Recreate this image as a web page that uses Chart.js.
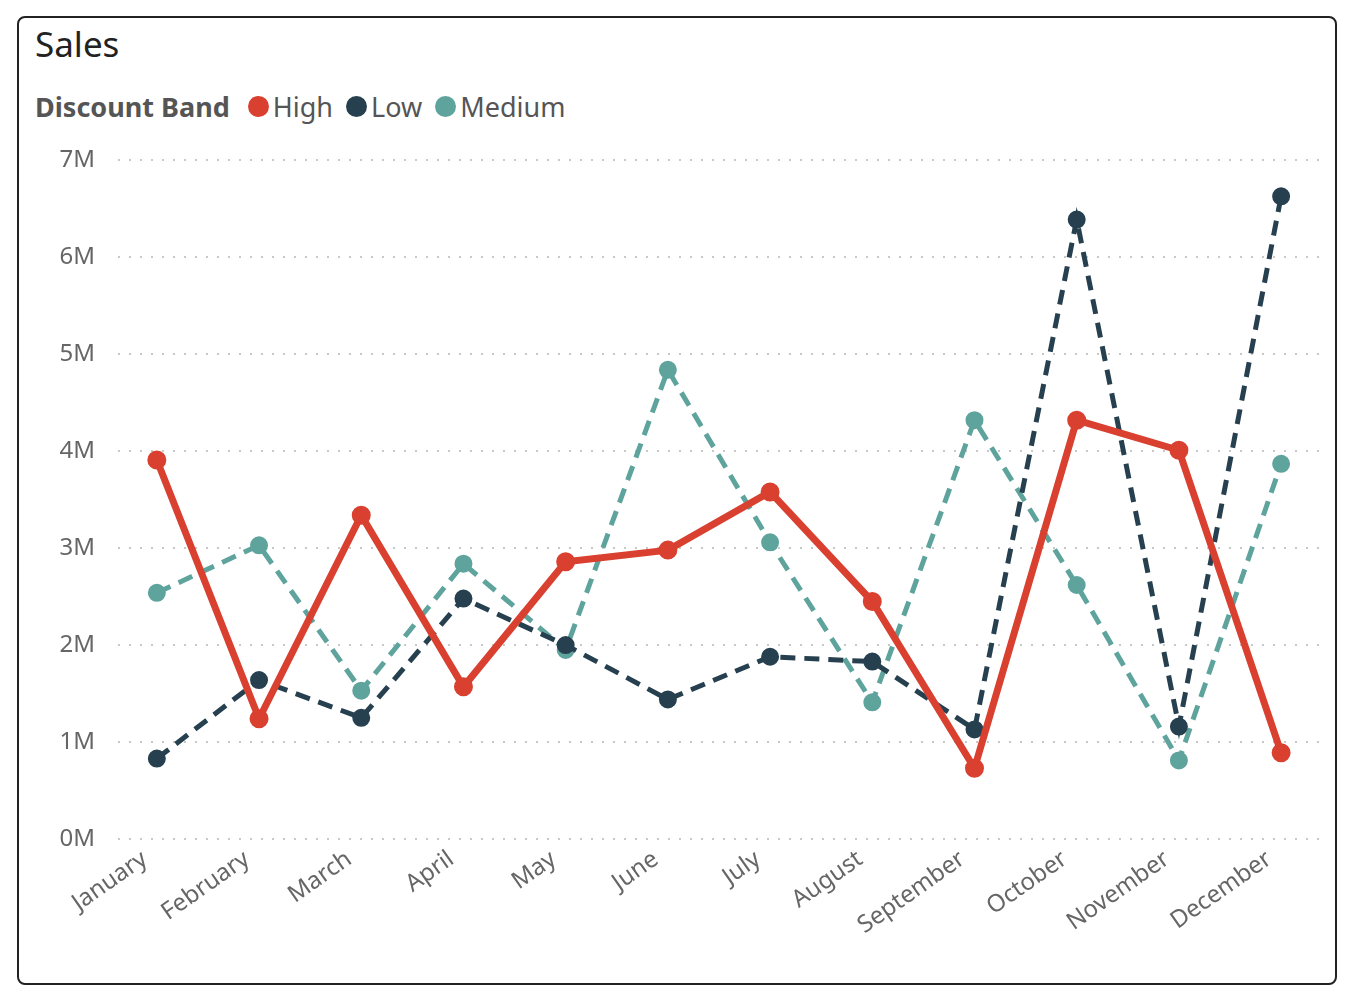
<!DOCTYPE html>
<html><head><meta charset="utf-8">
<script src="https://cdn.jsdelivr.net/npm/chart.js@4.4.1/dist/chart.umd.min.js"></script>
<style>
html,body{margin:0;padding:0;background:#fff;}
body{width:1347px;height:1005px;position:relative;font-family:"Noto Sans","Open Sans",sans-serif;}
#card{position:absolute;left:17px;top:16px;width:1316px;height:965px;border:2px solid #222;border-radius:8px;box-sizing:content-box;}
#title{position:absolute;left:16px;top:2px;font-size:35px;color:#222;}
#legend{position:absolute;left:16px;top:70px;font-size:27px;color:#555;display:flex;align-items:center;white-space:nowrap;}
#legend b{font-weight:700;margin-right:18px;color:#555;}
.it{display:flex;align-items:center;margin-right:13px;}
.dot{width:21px;height:21px;border-radius:50%;margin-right:4px;display:inline-block;}
#wrap{position:absolute;left:2px;top:105px;width:1314px;height:858px;}
</style></head>
<body>
<div id="card">
  <div id="title">Sales</div>
  <div id="legend"></div>
  <div id="wrap"><canvas id="c"></canvas></div>
</div>
<script>
const months = ["January","February","March","April","May","June","July","August","September","October","November","December"];
const high   = [3.91, 1.24, 3.34, 1.57, 2.86, 2.98, 3.58, 2.45, 0.73, 4.32, 4.01, 0.89];
const low    = [0.83, 1.64, 1.25, 2.48, 2.00, 1.44, 1.88, 1.83, 1.13, 6.39, 1.16, 6.63];
const medium = [2.54, 3.03, 1.53, 2.84, 1.95, 4.84, 3.06, 1.41, 4.32, 2.62, 0.81, 3.87];
const yTicks = [0,1,2,3,4,5,6,7];
const seriesNames = ["High","Low","Medium"];
const colors = ["#D9402F","#27404F","#5EA49D"];

const lg = document.getElementById('legend');
lg.innerHTML = '<b>Discount Band</b>' + seriesNames.map((n,i)=>'<span class="it"><span class="dot" style="background:'+colors[i]+'"></span>'+n+'</span>').join('');

const toXY = arr => arr.map((v,i)=>({x:i,y:v*1e6}));
const font = {family:'"Noto Sans","Open Sans",sans-serif', size:24};
new Chart(document.getElementById('c'), {
  type:'line',
  data:{datasets:[
    {label:'High', data:toXY(high), borderColor:colors[0], backgroundColor:colors[0], borderWidth:7, pointRadius:6, pointHoverRadius:6, tension:0},
    {label:'Low', data:toXY(low), borderColor:colors[1], backgroundColor:colors[1], borderWidth:5, borderDash:[15,9], pointRadius:6.5, tension:0},
    {label:'Medium', data:toXY(medium), borderColor:colors[2], backgroundColor:colors[2], borderWidth:5, borderDash:[15,9], pointRadius:6.5, tension:0}
  ]},
  options:{
    responsive:true, maintainAspectRatio:false, animation:false,
    layout:{padding:{top:33,right:8,left:0,bottom:0}},
    plugins:{legend:{display:false}, tooltip:{enabled:false}},
    scales:{
      x:{type:'linear', min:-0.38, max:11.4,
        afterBuildTicks: s => { s.ticks = months.map((m,i)=>({value:i})); },
        afterFit: s => { s.height = 142; },
        grid:{display:false, drawTicks:false}, border:{display:false},
        ticks:{color:'#666', font:font, minRotation:35, maxRotation:35, padding:6, labelOffset:-12, autoSkip:false,
          callback:(v)=>months[v]}
      },
      y:{min:0, max:7e6,
        afterBuildTicks: s => { s.ticks = yTicks.map(v=>({value:v*1e6})); },
        afterFit: s => { s.width = 97; },
        grid:{color:'#c8c8c8', lineWidth:2, drawTicks:false},
        border:{display:false, dash:[2,9]},
        ticks:{color:'#666', font:font, padding:23, callback:(v)=>(v/1e6)+'M'}
      }
    }
  }
});
</script>
</body></html>
